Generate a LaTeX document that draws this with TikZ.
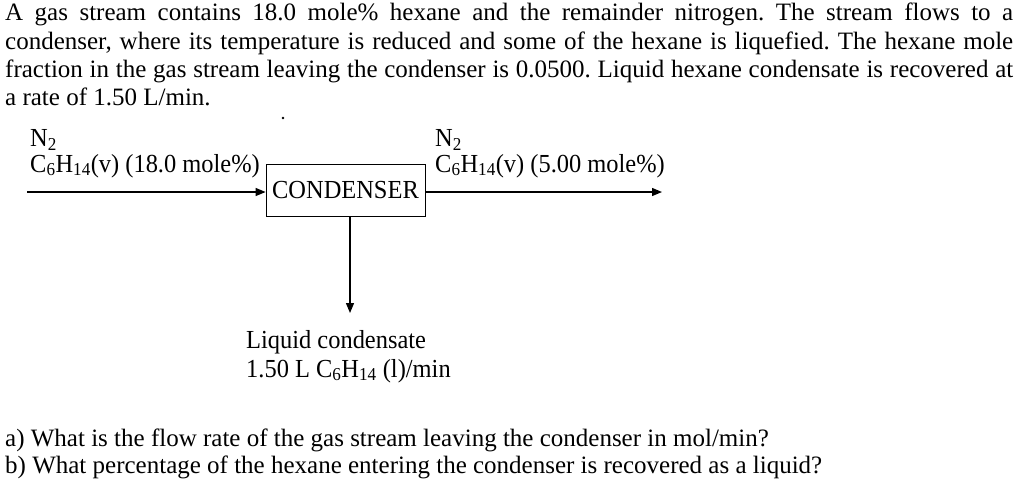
\documentclass[tikz,border=0pt]{standalone}
\usepackage{fontspec}
\setmainfont{Liberation Serif}
\newfontfamily\narrowfont[FakeStretch=0.94]{Liberation Serif}
\usetikzlibrary{arrows.meta}
\newcommand{\sbs}[1]{\textsubscript{#1}}
\frenchspacing
\begin{document}
\begin{tikzpicture}[x=1pt,y=-1pt,
  para/.style={anchor=north west,inner sep=0pt,font=\fontsize{25}{28.3}\selectfont},
  lab/.style={anchor=west,inner sep=0pt,font=\narrowfont\fontsize{26}{26}\selectfont},
  flow/.style={line width=1.3pt,-{Triangle[length=10pt,width=8pt]}}]
\useasboundingbox (0,0) rectangle (1022,488);
\node[para,text width=1008pt,align=justify] (txt) at (5,3) {\frenchspacing\hyphenpenalty=10000 A gas stream contains 18.0 mole\% hexane and the remainder nitrogen. The stream flows to a\linebreak condenser, where its temperature is reduced and some of the hexane is liquefied. The hexane mole\linebreak fraction in the gas stream leaving the condenser is 0.0500. Liquid hexane condensate is recovered at\linebreak a rate of 1.50 L/min.};
\fill (283,118) circle (1.3pt);
\node[draw,line width=0.8pt,minimum width=159pt,minimum height=52pt,inner sep=0pt,font=\narrowfont\fontsize{26}{26}\selectfont] (cond) at (345.5,190.5) {CONDENSER};
\coordinate (in) at (27,192);
\coordinate (out) at (662,192);
\coordinate (liq) at (350,313);
\draw[flow] (in) -- (in -| cond.west);
\draw[flow] (out -| cond.east) -- (out);
\draw[flow] (cond.south -| liq) -- (liq);
\node[lab] (n1) at (30,140) {N\sbs{2}};
\node[lab] (h1) at (30,166) {C\sbs{6}H\sbs{14}(v) (18.0 mole\%)};
\node[lab] (n2) at (435,140) {N\sbs{2}};
\node[lab] (h2) at (435,166) {C\sbs{6}H\sbs{14}(v) (5.00 mole\%)};
\node[lab] (l1) at (246,342) {Liquid condensate};
\node[lab] (l2) at (246,371) {1.50 L C\sbs{6}H\sbs{14} (l)/min};
\node[para,anchor=west] (qa) at (5,440) {a) What is the flow rate of the gas stream leaving the condenser in mol/min?};
\node[para,anchor=west] (qb) at (5,467) {b) What percentage of the hexane entering the condenser is recovered as a liquid?};
\end{tikzpicture}
\end{document}
